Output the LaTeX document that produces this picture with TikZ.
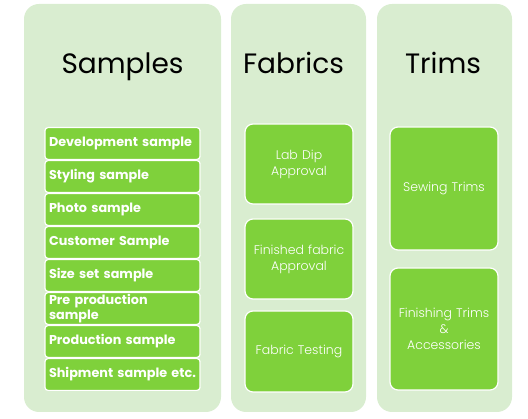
\documentclass[tikz,border=0pt]{standalone}
\usepackage{fontspec}
\setmainfont{Poppins}
\newfontfamily\lightfont{Poppins Light}
\usepackage{tikz}
\usetikzlibrary{positioning}
\definecolor{panelfill}{RGB}{217,237,208}
\definecolor{itemfill}{RGB}{127,209,59}

\begin{document}
\begin{tikzpicture}[
  x=1pt, y=-1pt,
  node distance=0pt,
  panel/.style={fill=panelfill, rounded corners=15pt, minimum height=408pt, inner sep=0pt},
  title/.style={anchor=base, font=\fontsize{28}{34}\selectfont},
  item/.style={draw=white, fill=itemfill, line width=1.2pt, rounded corners=3pt, minimum width=155pt, minimum height=31.8pt, text width=147pt, inner xsep=4pt, inner ysep=0pt, align=left, text=white, font=\bfseries\fontsize{12.8}{15}\selectfont},
  card/.style={draw=white, fill=itemfill, line width=1.2pt, rounded corners=8pt, minimum width=108pt, text width=104pt, inner xsep=2pt, align=center, text=white, font=\lightfont\fontsize{12.5}{16}\selectfont}
]
\useasboundingbox (0,0) rectangle (528,419);
% three columns
\node[panel, minimum width=197pt] (samples) at (122.5,208) {};
\node[panel, minimum width=135pt] (fabrics) at (298.5,208) {};
\node[panel, minimum width=135pt] (trims) at (444.5,208) {};
\node[title] (samplestitle) at (122.5,74) {Samples};
\node[title] (fabricstitle) at (293.5,74) {Fabrics};
\node[title] (trimstitle) at (443,74) {Trims};
% sample list
\node[item] (dev) at (122.5,143.5) {Development sample};
\node[item, below=of dev] (styling) {Styling sample};
\node[item, below=of styling] (photo) {Photo sample};
\node[item, below=of photo] (customer) {Customer Sample};
\node[item, below=of customer] (sizeset) {Size set sample};
\node[item, below=of sizeset] (preprod) {Pre production\\sample};
\node[item, below=of preprod] (prod) {Production sample};
\node[item, below=of prod] (shipment) {Shipment sample etc.};
% fabric and trim cards
\node[card, minimum height=80pt] (labdip) at (299,164) {Lab Dip\\Approval};
\node[card, minimum height=80pt] (finished) at (299,259) {Finished fabric\\Approval};
\node[card, minimum height=81pt] (testing) at (299,351.5) {Fabric Testing};
\node[card, minimum height=123pt] (sewing) at (444,188.5) {Sewing Trims};
\node[card, minimum height=122pt] (finishing) at (444,329) {Finishing Trims\\\&\\Accessories};
\end{tikzpicture}
\end{document}
